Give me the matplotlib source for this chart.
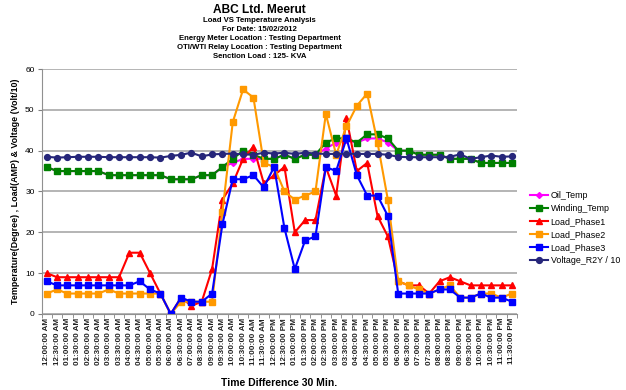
import matplotlib
matplotlib.use("Agg")
import matplotlib.pyplot as plt
from matplotlib.ticker import MultipleLocator, FixedLocator

plt.rcParams["font.family"] = ["Liberation Sans", "DejaVu Sans"]

# time stamps (07:30 and 08:00 AM are missing in the log)
times = ["12:00:00 AM", "12:30:00 AM", "01:00:00 AM", "01:30:00 AM", "02:00:00 AM",
         "02:30:00 AM", "03:00:00 AM", "03:30:00 AM", "04:00:00 AM", "04:30:00 AM",
         "05:00:00 AM", "05:30:00 AM", "06:00:00 AM", "06:30:00 AM", "07:00:00 AM",
         "08:30:00 AM", "09:00:00 AM", "09:30:00 AM", "10:00:00 AM", "10:30:00 AM",
         "11:00:00 AM", "11:30:00 AM", "12:00:00 PM", "12:30:00 PM", "01:00:00 PM",
         "01:30:00 PM", "02:00:00 PM", "02:30:00 PM", "03:00:00 PM", "03:30:00 PM",
         "04:00:00 PM", "04:30:00 PM", "05:00:00 PM", "05:30:00 PM", "06:00:00 PM",
         "06:30:00 PM", "07:00:00 PM", "07:30:00 PM", "08:00:00 PM", "08:30:00 PM",
         "09:00:00 PM", "09:30:00 PM", "10:00:00 PM", "10:30:00 PM", "11:00:00 PM",
         "11:30:00 PM"]

oil_temp = [36, 35, 35, 35, 35, 35, 34, 34, 34, 34, 34, 34, 33, 33, 33, 34, 34, 36,
            37, 38, 38, 38, 38, 39, 38, 39, 39, 40.5, 42, 42.5, 42, 43, 43, 42, 40, 40,
            39, 39, 39, 38, 38, 38, 37, 37, 37, 37]
winding_temp = [36, 35, 35, 35, 35, 35, 34, 34, 34, 34, 34, 34, 33, 33, 33, 34, 34, 36,
                38, 40, 39, 38, 38, 39, 38, 39, 39, 42, 43, 43, 42, 44, 44, 43, 40, 40,
                39, 39, 39, 38, 38, 38, 37, 37, 37, 37]
load_phase1 = [10, 9, 9, 9, 9, 9, 9, 9, 15, 15, 10, 5, 0, 4, 2, 3, 11, 28,
               32, 38, 41, 32, 34, 36, 20, 23, 23, 36, 29, 48, 35, 37, 24, 19, 8, 7,
               7, 5, 8, 9, 8, 7, 7, 7, 7, 7]
load_phase2 = [5, 6, 5, 5, 5, 5, 6, 5, 5, 5, 5, 5, 0, 3, 3, 3, 3, 25,
               47, 55, 53, 37, 36, 30, 28, 29, 30, 49, 39, 46, 51, 54, 42, 28, 8, 7,
               6, 5, 6, 7, 4, 4, 5, 5, 4, 5]
load_phase3 = [8, 7, 7, 7, 7, 7, 7, 7, 7, 8, 6, 5, 0, 4, 3, 3, 5, 22,
               33, 33, 34, 31, 36, 21, 11, 18, 19, 36, 35, 43, 34, 29, 29, 24, 5, 5,
               5, 5, 6, 6, 4, 4, 5, 4, 4, 3]
voltage_r2y = [38.5, 38.3, 38.4, 38.5, 38.5, 38.5, 38.4, 38.4, 38.4, 38.4, 38.4, 38.3,
               38.7, 39.0, 39.5, 38.6, 39.1, 39.2, 39.3, 39.1, 39.0, 39.5, 39.3, 39.5,
               39.2, 39.5, 39.3, 39.2, 39.2, 39.3, 39.2, 39.2, 39.2, 39.0, 38.5, 38.4,
               38.4, 38.4, 38.4, 38.5, 39.1, 38.0, 38.4, 38.8, 38.5, 38.6]

series = [
    ("Oil_Temp", oil_temp, "#FF00FF", "D", 3.0),
    ("Winding_Temp", winding_temp, "#008000", "s", 4.2),
    ("Load_Phase1", load_phase1, "#FF0000", "^", 4.5),
    ("Load_Phase2", load_phase2, "#FF9900", "s", 4.0),
    ("Load_Phase3", load_phase3, "#0000FF", "s", 4.2),
    ("Voltage_R2Y / 10", voltage_r2y, "#26267A", "o", 4.2),
]

fig = plt.figure(figsize=(6.26, 3.90), dpi=100)
ax = fig.add_axes([0.0663, 0.195, 0.7597, 0.628])

x = range(len(times))
for name, vals, col, mk, ms in series:
    ax.plot(x, vals, color=col, lw=1.5, marker=mk, markersize=ms, label=name)

ax.set_xlim(-0.5, len(times) - 0.5)
ax.set_ylim(0, 60)
ax.yaxis.set_major_locator(MultipleLocator(10))
ax.grid(axis="y", color="#A0A0A0", lw=1.1)
ax.set_axisbelow(True)

ax.set_xticks(list(x))
ax.set_xticklabels(times, rotation=90, fontsize=5.8, fontweight="bold", color="#222222")
ax.xaxis.set_minor_locator(FixedLocator([i - 0.5 for i in range(len(times) + 1)]))
ax.tick_params(axis="x", which="major", length=0, pad=3)
ax.tick_params(axis="x", which="minor", length=3, color="#808080")
ax.tick_params(axis="y", length=3, color="#808080", labelsize=6, pad=2)

for s in ["top", "right"]:
    ax.spines[s].set_visible(False)
for s in ["left", "bottom"]:
    ax.spines[s].set_color("#909090")

ax.set_ylabel("Temperature(Degree) , Load(AMP) & Voltage (Volt/10)",
              fontsize=6.4, fontweight="bold", labelpad=4)
ax.set_xlabel("Time Difference 30 Min.", fontsize=7.5, fontweight="bold", labelpad=9)

fig.text(0.415, 0.975, "ABC Ltd. Meerut", ha="center", va="center",
         fontsize=8.6, fontweight="bold")
sub = ["Load VS Temperature Analysis", "For Date: 15/02/2012",
       "Energy Meter Location : Testing Department",
       "OTI/WTI Relay Location : Testing Department",
       "Senction Load : 125- KVA"]
for k, line in enumerate(sub):
    fig.text(0.415, 0.948 - k * 0.0235, line, ha="center", va="center",
             fontsize=5.6, fontweight="bold")

ax.legend(loc="center left", bbox_to_anchor=(1.02, 0.35), frameon=False,
          fontsize=6.4, handlelength=2.0, labelspacing=0.45, borderaxespad=0,
          handletextpad=0.3)

fig.savefig("out.png", dpi=100)
